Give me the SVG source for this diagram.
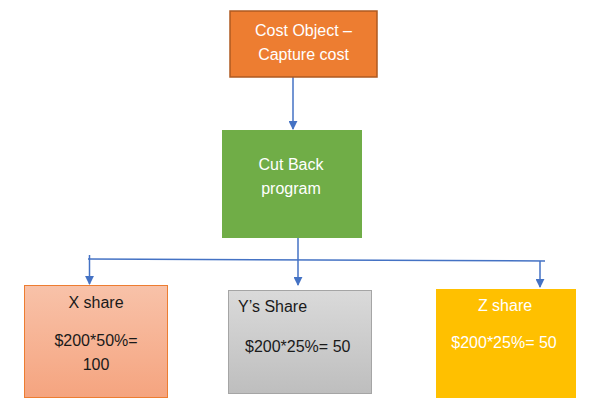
<svg xmlns="http://www.w3.org/2000/svg" width="594" height="415" viewBox="0 0 594 415">
<defs>
<style>
text{font-family:"Liberation Sans",Arial,sans-serif;font-size:16px}
.w{fill:#ffffff}
.d{fill:#1a1a1a}
.c{stroke:#4472C4;stroke-width:1.5;fill:none}
</style>
<marker id="ah" viewBox="0 0 10 10" refX="9" refY="5" markerWidth="6" markerHeight="6" orient="auto" markerUnits="strokeWidth">
<path d="M0,0 L10,5 L0,10 z" fill="#4472C4"/>
</marker>
<linearGradient id="gx" x1="0" y1="0" x2="0" y2="1">
<stop offset="0" stop-color="#F8C2A9"/>
<stop offset="1" stop-color="#F5A47F"/>
</linearGradient>
<linearGradient id="gy" x1="0" y1="0" x2="0" y2="1">
<stop offset="0" stop-color="#DADADA"/>
<stop offset="1" stop-color="#BEBEBE"/>
</linearGradient>
</defs>
<g id="connectors">
<line class="c" x1="293" y1="77" x2="293" y2="129" marker-end="url(#ah)"/>
<line class="c" x1="298" y1="237" x2="298" y2="285" marker-end="url(#ah)"/>
<line class="c" x1="88" y1="259" x2="545" y2="261"/>
<line class="c" x1="89.5" y1="255" x2="89.5" y2="284" marker-end="url(#ah)"/>
<line class="c" x1="540" y1="261" x2="540" y2="287" marker-end="url(#ah)"/>
</g>
<g id="cost-object">
<rect x="230" y="11" width="147" height="66" fill="#ED7D31" stroke="#AE5A21" stroke-width="1.5"/>
<text class="w" x="303.5" y="36" text-anchor="middle">Cost Object –</text>
<text class="w" x="303.5" y="60" text-anchor="middle">Capture cost</text>
</g>
<g id="cut-back">
<rect x="222" y="130" width="140" height="108" fill="#70AD47"/>
<text class="w" x="291" y="170" text-anchor="middle">Cut Back</text>
<text class="w" x="291" y="194" text-anchor="middle">program</text>
</g>
<g id="x-share">
<rect x="24.5" y="285.5" width="143" height="112" fill="url(#gx)" stroke="#ED7D31" stroke-width="1"/>
<text class="d" x="96" y="308" text-anchor="middle">X share</text>
<text class="d" x="96" y="346" text-anchor="middle">$200*50%=</text>
<text class="d" x="96" y="370" text-anchor="middle">100</text>
</g>
<g id="y-share">
<rect x="228.5" y="290.5" width="143" height="103" fill="url(#gy)" stroke="#A5A5A5" stroke-width="1"/>
<text class="d" x="238" y="312">Y’s Share</text>
<text class="d" x="245" y="352">$200*25%= 50</text>
</g>
<g id="z-share">
<rect x="436" y="289" width="140" height="109" fill="#FFC000"/>
<text class="w" x="505" y="311" text-anchor="middle">Z share</text>
<text class="w" x="504" y="348" text-anchor="middle">$200*25%= 50</text>
</g>
</svg>
